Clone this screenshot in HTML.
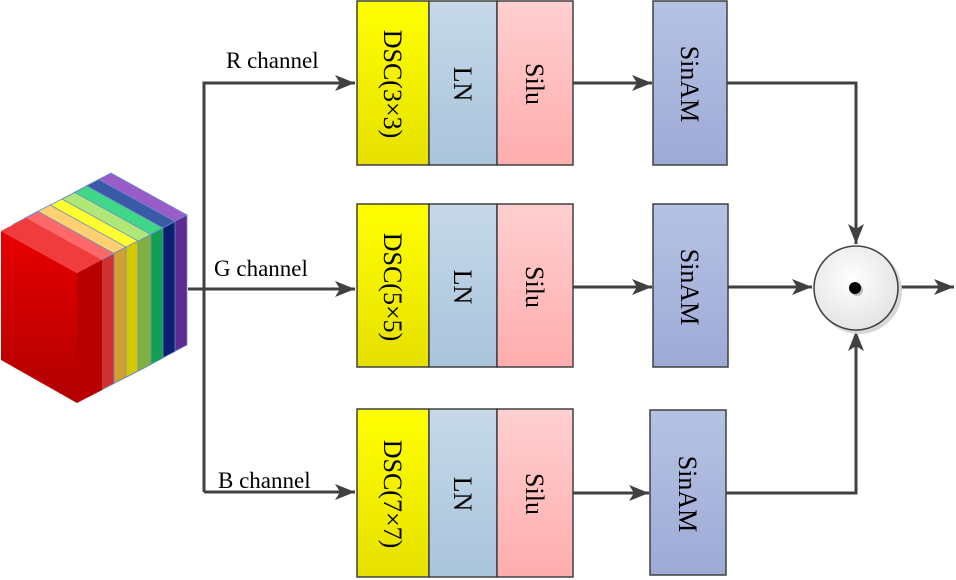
<!DOCTYPE html>
<html><head><meta charset="utf-8"><style>
html,body{margin:0;padding:0;background:#fff;}
svg{display:block;}
text{font-family:"Liberation Serif",serif;fill:#000;}
</style></head><body>
<svg width="956" height="580" viewBox="0 0 956 580" xmlns="http://www.w3.org/2000/svg">
<defs>
<marker id="ar" markerWidth="10" markerHeight="10" refX="9" refY="5" orient="auto" markerUnits="userSpaceOnUse">
<path d="M0,0 L10,5 L0,10 Z" fill="#404040"/>
</marker>
<marker id="a" viewBox="0 0 20 16" markerWidth="20" markerHeight="16" refX="20" refY="8" orient="auto" markerUnits="userSpaceOnUse">
<path d="M0,0 L20,8 L0,16 L5,8 Z" fill="#404040"/>
</marker>
<linearGradient id="gy" x1="0" y1="0" x2="0" y2="1"><stop offset="0" stop-color="#ffff00"/><stop offset="1" stop-color="#e6e000"/></linearGradient>
<linearGradient id="gb" x1="0" y1="0" x2="0" y2="1"><stop offset="0" stop-color="#c6d8e8"/><stop offset="1" stop-color="#a9c4dc"/></linearGradient>
<linearGradient id="gp" x1="0" y1="0" x2="0" y2="1"><stop offset="0" stop-color="#ffcfd0"/><stop offset="1" stop-color="#ffadae"/></linearGradient>
<linearGradient id="gs" x1="0" y1="0" x2="0" y2="1"><stop offset="0" stop-color="#b6c2e3"/><stop offset="1" stop-color="#9eaad6"/></linearGradient>
<linearGradient id="gr" x1="0" y1="0" x2="0" y2="1"><stop offset="0" stop-color="#e80000"/><stop offset="1" stop-color="#b00000"/></linearGradient>
<radialGradient id="gc" cx="0.45" cy="0.4" r="0.6"><stop offset="0" stop-color="#ffffff"/><stop offset="1" stop-color="#e4e4e4"/></radialGradient>
</defs>

<!-- cube slices back to front -->
<g stroke="#6a8cc8" stroke-width="0.8">
<!-- slice template offsets -->
<g transform="translate(85,-45)"><polygon points="1,231 26,218 102,260 77,273" fill="#9a5cc8"/><polygon points="77,273 102,260 102,390 77,403" fill="#5c2a90"/></g>
<g transform="translate(73,-38.5)"><polygon points="1,231 26,218 102,260 77,273" fill="#3a5aa8"/><polygon points="77,273 102,260 102,390 77,403" fill="#0a2070"/></g>
<g transform="translate(61,-32)"><polygon points="1,231 26,218 102,260 77,273" fill="#40d888"/><polygon points="77,273 102,260 102,390 77,403" fill="#10a050"/></g>
<g transform="translate(49,-25.5)"><polygon points="1,231 26,218 102,260 77,273" fill="#b0e878"/><polygon points="77,273 102,260 102,390 77,403" fill="#80b040"/></g>
<g transform="translate(36,-19)"><polygon points="1,231 26,218 102,260 77,273" fill="#ffff30"/><polygon points="77,273 102,260 102,390 77,403" fill="#d4c800"/></g>
<g transform="translate(24,-13)"><polygon points="1,231 26,218 102,260 77,273" fill="#ffd070"/><polygon points="77,273 102,260 102,390 77,403" fill="#d0a030"/></g>
<g transform="translate(12,-6.5)"><polygon points="1,231 26,218 102,260 77,273" fill="#ff6868"/><polygon points="77,273 102,260 102,390 77,403" fill="#d03030"/></g>
</g>
<polygon points="1,231 26,218 102,260 77,273" fill="#f03c3c"/>
<polygon points="1,231 77,273 77,403 1,360" fill="url(#gr)"/>
<polygon points="77,273 102,260 102,390 77,403" fill="#b80000"/>

<!-- connectors -->
<g stroke="#404040" stroke-width="3" fill="none">
<line x1="188" y1="289" x2="204" y2="289"/>
<polyline points="204,492 204,83 355,83" marker-end="url(#a)"/>
<line x1="204" y1="289" x2="355" y2="289" marker-end="url(#a)"/>
<line x1="204" y1="492" x2="355" y2="492" marker-end="url(#a)"/>
<line x1="573" y1="83" x2="652" y2="83" marker-end="url(#a)"/>
<line x1="573" y1="287" x2="652" y2="287" marker-end="url(#a)"/>
<line x1="573" y1="493" x2="649" y2="493" marker-end="url(#a)"/>
<polyline points="727,83 856,83 856,244" marker-end="url(#a)"/>
<line x1="728" y1="287" x2="812" y2="287" marker-end="url(#a)"/>
<polyline points="726,493 856,493 856,331" marker-end="url(#a)"/>
<line x1="899" y1="287" x2="954" y2="287" marker-end="url(#a)"/>
</g>

<!-- labels -->
<text x="226" y="68" font-size="23">R channel</text>
<text x="214" y="276" font-size="23">G channel</text>
<text x="218" y="488" font-size="23">B channel</text>

<!-- boxes -->
<g stroke="#404040" stroke-width="1.5">
<rect x="357" y="1" width="72" height="164" fill="url(#gy)"/>
<rect x="429" y="1" width="68" height="164" fill="url(#gb)"/>
<rect x="497" y="1" width="76" height="164" fill="url(#gp)"/>
<rect x="653" y="1" width="74" height="164" fill="url(#gs)"/>

<rect x="357" y="204" width="72" height="163" fill="url(#gy)"/>
<rect x="429" y="204" width="68" height="163" fill="url(#gb)"/>
<rect x="497" y="204" width="76" height="163" fill="url(#gp)"/>
<rect x="653" y="204" width="75" height="163" fill="url(#gs)"/>

<rect x="357" y="409" width="72" height="168" fill="url(#gy)"/>
<rect x="429" y="409" width="68" height="168" fill="url(#gb)"/>
<rect x="497" y="409" width="76" height="168" fill="url(#gp)"/>
<rect x="650" y="410" width="76" height="165" fill="url(#gs)"/>
</g>

<g font-size="26" text-anchor="middle">
<text transform="translate(384,84) rotate(90)">DSC(3×3)</text>
<text transform="translate(454,84) rotate(90)">LN</text>
<text transform="translate(526,84) rotate(90)">Silu</text>
<text transform="translate(681,84) rotate(90)">SinAM</text>

<text transform="translate(384,287) rotate(90)">DSC(5×5)</text>
<text transform="translate(454,287) rotate(90)">LN</text>
<text transform="translate(526,287) rotate(90)">Silu</text>
<text transform="translate(681,287) rotate(90)">SinAM</text>

<text transform="translate(384,494) rotate(90)">DSC(7×7)</text>
<text transform="translate(454,494) rotate(90)">LN</text>
<text transform="translate(526,494) rotate(90)">Silu</text>
<text transform="translate(679,494) rotate(90)">SinAM</text>
</g>

<!-- circle -->
<circle cx="859" cy="291" r="43" fill="#d8d8d8"/>
<circle cx="856" cy="288" r="42" fill="url(#gc)" stroke="#404040" stroke-width="1.5"/>
<circle cx="857" cy="290" r="6" fill="#bbb"/>
<circle cx="855" cy="288" r="6" fill="#000"/>
</svg>
</body></html>
